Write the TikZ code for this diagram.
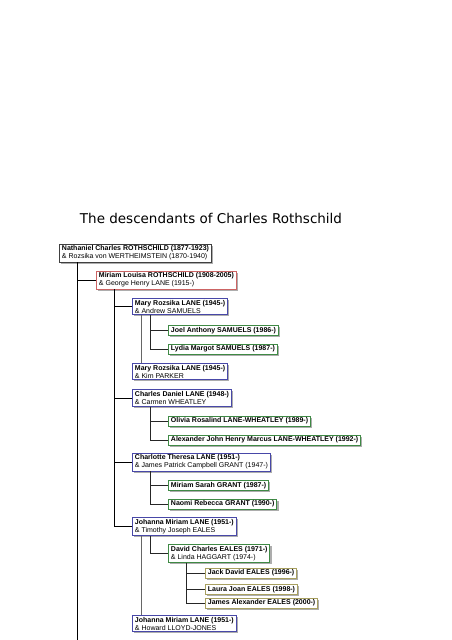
\documentclass[tikz,border=0pt]{standalone}
\usepackage{fontspec}
\setmainfont{Liberation Sans}
\newfontfamily\titlefont{DejaVu Sans}
\usetikzlibrary{shadows}

\definecolor{famdark}{HTML}{404040}
\definecolor{famred}{HTML}{CC6464}
\definecolor{famblue}{HTML}{4848A8}
\definecolor{famgreen}{HTML}{3F8A45}
\definecolor{famolive}{HTML}{A8A060}

\tikzset{
  person/.style={draw=#1, fill=white, line width=0.9pt, inner xsep=2.5pt, inner ysep=1.7pt,
    align=left, anchor=west, font=\fontsize{7}{8}\selectfont,
    drop shadow={shadow xshift=1.6pt, shadow yshift=-1.6pt, fill=black!32, opacity=1}},
  link/.style={draw=black!85, line width=0.8pt},
}

\begin{document}
\begin{tikzpicture}[x=1pt,y=-1pt]
    \useasboundingbox (0,0) rectangle (452,640);
    % Tiêu đề
    \node[anchor=base, font=\titlefont\fontsize{13.5}{16}\selectfont] (title) at (211,223) {The descendants of Charles Rothschild};

    % Thế hệ 0 và 1
    \node[person=famdark] (nathaniel) at (59,253) {\textbf{Nathaniel Charles ROTHSCHILD (1877-1923)}\\\& Rozsika von WERTHEIMSTEIN (1870-1940)};
    \node[person=famred] (miriam) at (96,280) {\textbf{Miriam Louisa ROTHSCHILD (1908-2005)}\\\& George Henry LANE (1915-)};

    % Thế hệ 2
    \node[person=famblue] (maryA) at (132,306.5) {\textbf{Mary Rozsika LANE (1945-)}\\\& Andrew SAMUELS};
    \node[person=famblue] (maryK) at (132,371.5) {\textbf{Mary Rozsika LANE (1945-)}\\\& Kim PARKER};
    \node[person=famblue] (charles) at (132,398) {\textbf{Charles Daniel LANE (1948-)}\\\& Carmen WHEATLEY};
    \node[person=famblue] (charlotte) at (132,462) {\textbf{Charlotte Theresa LANE (1951-)}\\\& James Patrick Campbell GRANT (1947-)};
    \node[person=famblue] (johannaT) at (132,526.5) {\textbf{Johanna Miriam LANE (1951-)}\\\& Timothy Joseph EALES};
    \node[person=famblue] (johannaH) at (132,623.5) {\textbf{Johanna Miriam LANE (1951-)}\\\& Howard LLOYD-JONES};

    % Thế hệ 3
    \node[person=famgreen] (joel) at (168,330.5) {\textbf{Joel Anthony SAMUELS (1986-)}};
    \node[person=famgreen] (lydia) at (168,349) {\textbf{Lydia Margot SAMUELS (1987-)}};
    \node[person=famgreen] (olivia) at (168,421) {\textbf{Olivia Rosalind LANE-WHEATLEY (1989-)}};
    \node[person=famgreen] (alexander) at (168,440) {\textbf{Alexander John Henry Marcus LANE-WHEATLEY (1992-)}};
    \node[person=famgreen] (msarah) at (168,485.5) {\textbf{Miriam Sarah GRANT (1987-)}};
    \node[person=famgreen] (naomi) at (168,504) {\textbf{Naomi Rebecca GRANT (1990-)}};
    \node[person=famgreen] (david) at (168,553.5) {\textbf{David Charles EALES (1971-)}\\\& Linda HAGGART (1974-)};

    % Thế hệ 4
    \node[person=famolive] (jack) at (205,573) {\textbf{Jack David EALES (1996-)}};
    \node[person=famolive] (laura) at (205,589.5) {\textbf{Laura Joan EALES (1998-)}};
    \node[person=famolive] (james) at (205,603) {\textbf{James Alexander EALES (2000-)}};

    % Đường nối con cái
    \coordinate (rootend) at (77,640);
    \draw[link, draw=black] (rootend |- nathaniel.south) -- (rootend);
    \draw[link, draw=black] (rootend |- miriam.west) -- (miriam.west);
    \foreach \c in {maryA,charles,charlotte,johannaT}
    \draw[link, draw=black, line width=1pt] ([xshift=18pt]miriam.south west) |- (\c.west);
    \foreach \c in {joel,lydia}
    \draw[link] ([xshift=18.5pt]maryA.south west) |- (\c.west);
    \foreach \c in {olivia,alexander}
    \draw[link] ([xshift=18.5pt]charles.south west) |- (\c.west);
    \foreach \c in {msarah,naomi}
    \draw[link] ([xshift=18.5pt]charlotte.south west) |- (\c.west);
    \draw[link] ([xshift=18.5pt]johannaT.south west) |- (david.west);
    \foreach \c in {jack,laura,james}
    \draw[link] ([xshift=18.5pt]david.south west) |- (\c.west);

    % Đường nối giữa các cuộc hôn nhân
    \draw[link, draw=black!60] ([xshift=9pt]maryA.south west) -- ([xshift=9pt]maryK.north west);
    \draw[link, draw=black!60] ([xshift=9pt]johannaT.south west) -- ([xshift=9pt]johannaH.north west);
\end{tikzpicture}
\end{document}
